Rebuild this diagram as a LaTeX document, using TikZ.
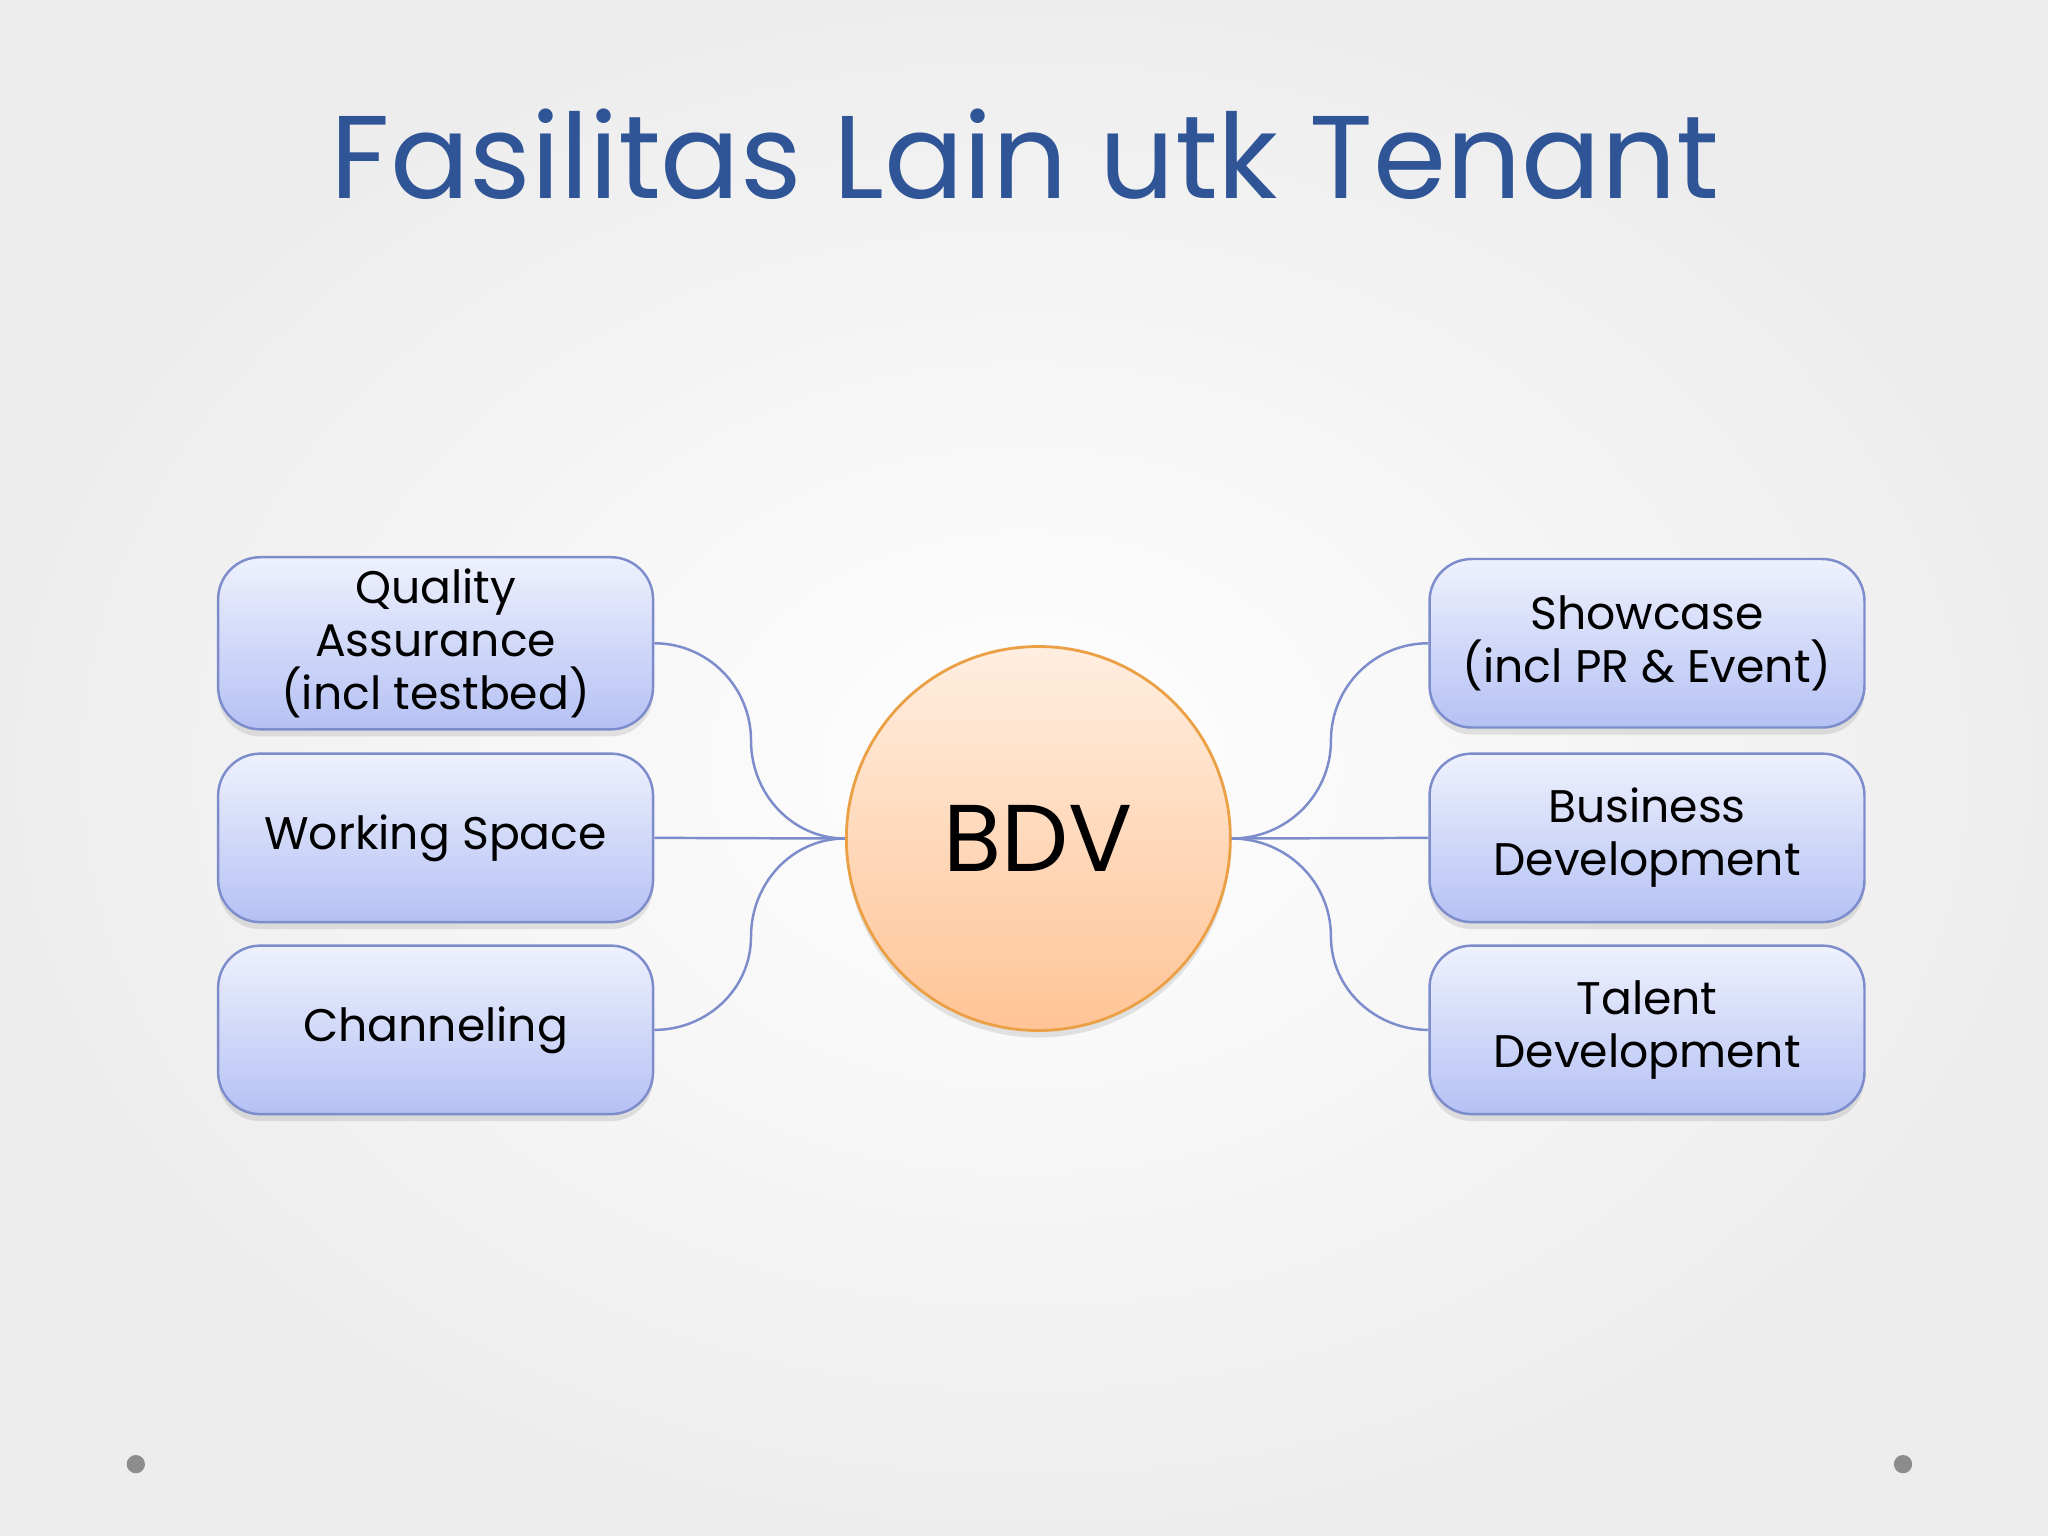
\documentclass[tikz,border=0pt]{standalone}
\usepackage{fontspec}
\setmainfont{Poppins}
\usetikzlibrary{shadows}
\definecolor{ttl}{HTML}{2F5597}
\definecolor{btop}{HTML}{EEF1FD}
\definecolor{bbot}{HTML}{B5C1F4}
\definecolor{bdr}{HTML}{7D8CCB}
\definecolor{ctop}{HTML}{FFEEE0}
\definecolor{cbot}{HTML}{FFC496}
\definecolor{cdr}{HTML}{EBA046}
\tikzset{
 box/.style={draw=bdr, line width=0.7pt, rounded corners=12pt, top color=btop, bottom color=bbot,
   minimum width=333*0.01306cm, minimum height=129*0.01306cm, align=center, font=\fontsize{13}{15}\selectfont,
   drop shadow={shadow xshift=0pt, shadow yshift=-2pt, opacity=0.2}},
 link/.style={draw=bdr, line width=0.7pt}
}
\begin{document}
\begin{tikzpicture}[x=0.01306cm,y=-0.01306cm]
\useasboundingbox (0,0) rectangle (1568,1176);
\shade[inner color=white, outer color=black!7] (0,0) rectangle (1568,1176);
\node[text=ttl, font=\fontsize{33.5}{40}\selectfont] (title) at (785,118) {Fasilitas Lain utk Tenant};
\node[box] (qa) at (333.5,492.5) {Quality\\Assurance\\(incl testbed)};
\node[box] (ws) at (333.5,641.5) {Working Space};
\node[box] (ch) at (333.5,788.5) {Channeling};
\node[box] (sh) at (1261,492.5) {Showcase\\(incl PR \& Event)};
\node[box] (bd) at (1261,641.5) {Business\\Development};
\node[box] (td) at (1261,788.5) {Talent\\Development};
\node[circle, draw=cdr, line width=0.8pt, top color=ctop, bottom color=cbot, minimum size=294*0.01306cm,
  font=\fontsize{27}{32}\selectfont, drop shadow={shadow xshift=0pt, shadow yshift=-2pt, opacity=0.2}] (bdv) at (795,642) {BDV};
\draw[link] (qa.east) to[out=0,in=90] (575,567) to[out=-90,in=180] (bdv.west);
\draw[link] (ws.east) -- (bdv.west);
\draw[link] (ch.east) to[out=0,in=-90] (575,717) to[out=90,in=180] (bdv.west);
\draw[link] (sh.west) to[out=180,in=90] (1019,567) to[out=-90,in=0] (bdv.east);
\draw[link] (bd.west) -- (bdv.east);
\draw[link] (td.west) to[out=180,in=-90] (1019,717) to[out=90,in=0] (bdv.east);
\fill[black!45] (104,1121) circle (7) node (d1) {};
\fill[black!45] (1457,1121) circle (7) node (d2) {};
\end{tikzpicture}
\end{document}
